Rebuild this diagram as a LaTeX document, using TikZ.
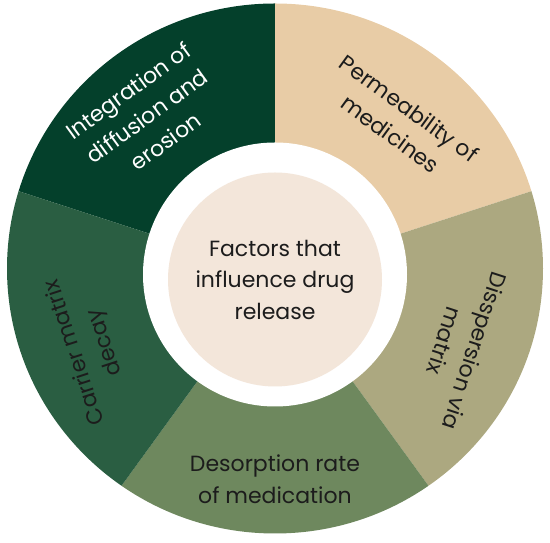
\documentclass[tikz,border=0pt]{standalone}
\usepackage{fontspec}
\setmainfont{Poppins}
\usepackage{xcolor}
\usepackage{tikz}
\usetikzlibrary{positioning}

\definecolor{pineGreen}{RGB}{4,64,43}
\definecolor{sandBeige}{RGB}{232,204,166}
\definecolor{oliveGrey}{RGB}{172,168,128}
\definecolor{sageGreen}{RGB}{110,136,94}
\definecolor{mossGreen}{RGB}{42,94,66}
\definecolor{creamFill}{RGB}{243,230,218}
\definecolor{inkText}{RGB}{28,28,28}

\begin{document}
\begin{tikzpicture}[
    x=1pt, y=1pt,
    wedge/.style={draw=none},
    seglabel/.style={align=center, font=\fontsize{22}{31.5}\selectfont, text=inkText, inner sep=0pt},
    hubbox/.style={circle, fill=creamFill, minimum size=214pt, align=center, font=\fontsize{22}{31.5}\selectfont, text=inkText},
]
\useasboundingbox (0,0) rectangle (550,543);

\coordinate (ring) at (275,274.5);
\coordinate (core) at (275,268.5);

% ring segments
\begin{scope}
\clip (ring) ellipse [x radius=268, y radius=265];
\fill[wedge, pineGreen] (core) -- ++(90:320) arc[start angle=90, end angle=162, radius=320] -- cycle;
\fill[wedge, sandBeige] (core) -- ++(18:320) arc[start angle=18, end angle=90, radius=320] -- cycle;
\fill[wedge, oliveGrey] (core) -- ++(-54:320) arc[start angle=-54, end angle=18, radius=320] -- cycle;
\fill[wedge, sageGreen] (core) -- ++(-126:320) arc[start angle=-126, end angle=-54, radius=320] -- cycle;
\fill[wedge, mossGreen] (core) -- ++(162:320) arc[start angle=162, end angle=234, radius=320] -- cycle;
\end{scope}

% hole and centre
\fill[white] (core) circle[radius=132];
\node[hubbox] (hub) at (275,263.5) {Factors that\\influence drug\\release};

\node[seglabel, text=white, rotate=36] (integration) at (147,427) {Integration of\\diffusion and\\erosion};
\node[seglabel, rotate=-36] (permeability) at (400,422) {Permeability of\\medicines};
\node[seglabel, rotate=-108] (dispersion) at (460,197) {Disspersion via\\matrix};
\node[seglabel] (desorption) at (275,64) {Desorption rate\\of medication};
\node[seglabel, rotate=108] (carrier) at (90.5,196) {Carrier matrix\\decay};

\end{tikzpicture}
\end{document}
